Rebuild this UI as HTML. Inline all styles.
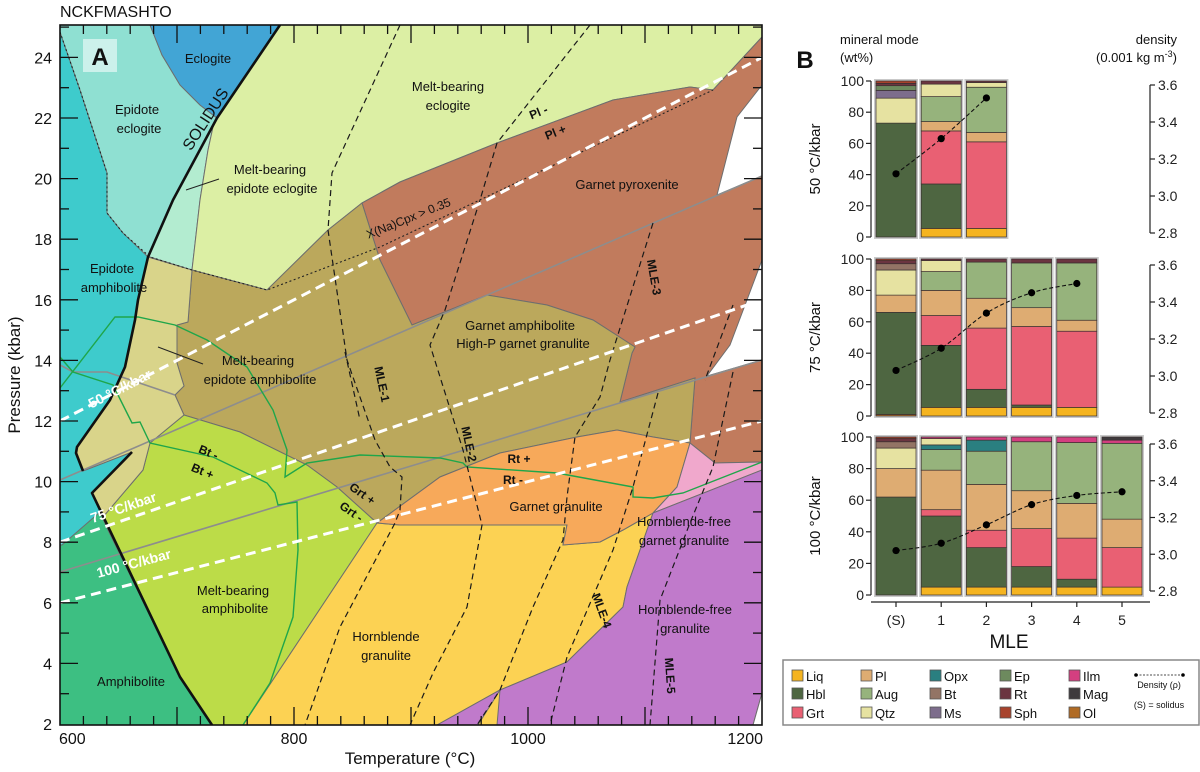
<!DOCTYPE html>
<html><head><meta charset="utf-8"><title>NCKFMASHTO phase diagram and mineral modes</title>
<style>
html,body{margin:0;padding:0;background:#fff;}
svg{display:block;font-family:"Liberation Sans",Arial,sans-serif;}
</style></head>
<body>
<svg id="fig" width="1200" height="772" viewBox="0 0 1200 772" xmlns="http://www.w3.org/2000/svg">
<g id="panelA"></g>
<g id="panelB"></g>
</svg>
<script>
// ---------- Panel B data ----------
const minerals = ["Liq","Ol","Hbl","Grt","Pl","Aug","Opx","Qtz","Ms","Bt","Ep","Ilm","Mag","Rt","Sph"];
const mineralColors = {Liq:"#f5b420",Pl:"#deac72",Opx:"#2a7f80",Ep:"#6d8a5e",Ilm:"#d43f80",Hbl:"#4e6641",Aug:"#96b37c",Bt:"#937465",Rt:"#6b3540",Mag:"#3e3a3d",Grt:"#e96073",Qtz:"#e6e2a1",Ms:"#7d6d8c",Sph:"#a8432c",Ol:"#b06b25"};
const categories = ["(S)","1","2","3","4","5"];
const gradients = ["50 °C/kbar","75 °C/kbar","100 °C/kbar"];
const modes50 = [
  {Hbl:73,Qtz:16,Ms:5,Ep:3,Sph:1.5,Rt:1.5},
  {Liq:5.5,Hbl:28.5,Grt:34,Pl:6,Aug:16,Qtz:8,Rt:2},
  {Liq:5.5,Grt:55.5,Pl:6,Aug:29,Qtz:3,Rt:1}
];
const modes75 = [
  {Ol:1,Hbl:65,Pl:11,Qtz:16,Bt:4,Rt:2,Sph:1},
  {Liq:5.5,Hbl:39.5,Grt:19,Pl:16,Aug:12,Qtz:7,Rt:1},
  {Liq:5.5,Hbl:11.5,Grt:39,Pl:19,Aug:23,Rt:2},
  {Liq:5.5,Hbl:1.5,Grt:50,Pl:12,Aug:28.5,Rt:2.5},
  {Liq:5.5,Grt:48.5,Pl:7,Aug:36.5,Rt:2.5}
];
const modes100 = [
  {Hbl:62,Pl:18,Qtz:13,Bt:4,Rt:2,Sph:1},
  {Liq:5,Hbl:45,Grt:4,Pl:25,Aug:13,Opx:3,Qtz:4,Ilm:1},
  {Liq:5,Hbl:25,Grt:11,Pl:29,Aug:21,Opx:7,Ilm:2},
  {Liq:5,Hbl:13,Grt:24,Pl:24,Aug:31,Ilm:3},
  {Liq:5,Hbl:5,Grt:26,Pl:22,Aug:38.5,Ilm:3.5},
  {Liq:5,Grt:25,Pl:18,Aug:48,Ilm:2,Mag:2}
];
const density50 = [3.12,3.31,3.53];
const density75 = [3.03,3.15,3.34,3.45,3.50];
const density100 = [3.02,3.06,3.16,3.27,3.32,3.34];
const modeTicks = [0,20,40,60,80,100];
const densityTicks = [2.8,3.0,3.2,3.4,3.6];
// ---------- Panel A data ----------
const tempTicks = [600,800,1000,1200];
const pressTicks = [2,4,6,8,10,12,14,16,18,20,22,24];
const geotherms = [50,75,100];

const NS="http://www.w3.org/2000/svg";
function el(tag,attrs,parent,text){const e=document.createElementNS(NS,tag);for(const k in attrs)e.setAttribute(k,attrs[k]);if(text!==undefined)e.textContent=text;parent.appendChild(e);return e;}
const A=document.getElementById('panelA');
const B=document.getElementById('panelB');

// axis functions panel A
function xT(T){return 60+(T-600)*1.17;}
function yP(P){return 724-(P-2)*30.3;}
const X0=60,X1=762,Y0=25,Y1=725;

// clip
const defs=el('defs',{},A);
const cp=el('clipPath',{id:'clipA'},defs);
el('rect',{x:X0,y:Y0,width:X1-X0,height:Y1-Y0},cp);
const G=el('g',{'clip-path':'url(#clipA)'},A);



// digitised field outlines (pixel trace of diagram)
const fields=[
 ["field-epidote-amphibolite","#3ecbcc","60,25 280,25 217,118 173,200 148,257 138,300 135,320 125,367 110,400 77,447 76,453 83,471 132,452 92,493 108,530 62,545 60,545"],
 ["field-epidote-eclogite","#8fe0d2","60,25 150,25 162,55 180,85 200,105 217,118 173,200 148,257 123,233 107,213 107,173 80,90 60,32"],
 ["field-melt-bearing-epidote-eclogite","#b3ecd0","217,118 213,127 208,150 200,200 192,270 150,257 148,257 173,200"],
 ["field-melt-bearing-eclogite","#dcefa4","275,25 762,25 762,37 713,90 690,87 613,100 497,143 400,182 362,203 328,230 267,290 192,270 200,200 208,150 213,127 217,118"],
 ["field-garnet-pyroxenite","#c17b5d","362,203 400,182 497,143 613,100 690,87 713,90 762,37 762,462 715,463 690,443 695,378 620,402 632,353 635,347 593,320 547,305 487,295 412,325 380,260"],
 ["field-garnet-amphibolite","#bba85c","177,325 188,322 192,270 267,290 328,230 362,203 380,260 412,325 487,295 547,305 593,320 635,347 632,353 620,402 695,378 690,443 653,437 617,430 577,437 500,453 440,477 377,523 337,487 307,465 240,432 184,415 175,395 184,386 177,363"],
 ["field-melt-bearing-amphibolite","#bcdc48","92,493 103,517 143,470 150,443 184,415 240,432 307,465 337,487 377,523 243,725 212,725 180,677"],
 ["field-melt-bearing-epidote-amphibolite","#d9d48a","148,257 192,270 188,322 177,325 177,363 184,386 175,395 184,415 150,443 143,470 103,517 92,493 132,452 83,471 76,453 77,447 110,400 125,367 135,320 138,300"],
 ["field-amphibolite","#3dbf82","60,545 62,545 100,512 108,530 180,677 212,725 60,725"],
 ["field-hornblende-granulite","#fcd253","377,523 400,525 567,525 563,545 600,542 623,530 653,513 627,587 623,607 567,662 500,690 437,725 243,725"],
 ["field-garnet-granulite","#f7a95a","377,523 440,477 500,453 577,437 617,430 653,437 690,443 677,487 653,513 623,530 600,542 563,545 567,525 400,525"],
 ["field-hornblende-free-garnet-granulite","#f0a8cc","690,443 715,463 762,462 762,470 653,513 677,487"],
 ["field-hornblende-free-granulite","#c07acb","437,725 500,690 567,662 623,607 627,587 653,513 762,470 762,693 753,725"],
 ["field-hornblende-granulite-strip","#fcd253","478,725 500,690 497,725"],
 ["field-eclogite","#42a5d5","150,25 280,25 217,118 200,105 180,85 162,55"],
 ["field-unstable-upper","#ffffff","762,85 737,117 717,195 762,176"],
 ["field-unstable-middle","#ffffff","762,260 730,345 707,376 762,360"],
 ["field-unstable-corner","#ffffff","753,725 762,693 762,725"]
];
fields.forEach(f=>{
  const p=el('polygon',{points:f[2],fill:f[1],stroke:'#6e6e6e','stroke-width':1},G);
  
  
});

// gray straight boundary lines
[["boundary-line-upper","60,480 762,176"],["boundary-line-lower","60,572 762,360"],["boundary-line-left","60,365 73,372 107,372 175,395"]].forEach(l=>{
  const p=el('polyline',{points:l[1],fill:'none',stroke:'#8d8d8d','stroke-width':1.6},G);
  
  
});
// dotted XNa boundary
const dot=el('polyline',{points:"60,32 80,90 107,173 107,213 123,233 150,257 192,270 267,290 380,247 713,90",fill:'none',stroke:'#222','stroke-width':1.1,'stroke-dasharray':'2,2.5'},G);


// green lines
[["bt-out-line","60,388 115,317 138,317 175,325 207,340 247,367 273,410 287,450 285,477 307,463 360,455 440,458 463,463 467,467 557,473 633,487 633,497 653,498 683,493 762,462"],
 ["grt-line","60,357 73,372 113,385 132,423 140,422 150,443 213,457 267,483 275,493 278,505 297,502 298,550 293,617 270,683 243,725"]].forEach(l=>{
  const p=el('polyline',{points:l[1],fill:'none',stroke:'#1fa64a','stroke-width':1.4},G);
  
  
});
// MLE dashed paths
[["mle-1-path","400,25 332,173 328,230 347,360 375,440 390,467 402,477 400,510 395,523 340,627 305,725"],
 ["mle-2-path","590,25 497,143 480,200 445,310 430,345 463,450 482,525 467,607 433,673 410,725"],
 ["mle-3-path","653,223 610,360 600,397 575,437 567,497 563,540 533,607 500,690 477,725"],
 ["mle-4-path","658,393 633,487 613,550 567,657 550,725"],
 ["mle-5-path","733,372 713,467 690,523 660,600 650,725"],
 ["dashed-extra","345,352 360,420"],
 ["dashed-extra-2","733,305 705,380"]].forEach(l=>{
  const p=el('polyline',{points:l[1],fill:'none',stroke:'#1a1a1a','stroke-width':1.2,'stroke-dasharray':'6,4'},G);
  
  
});
// solidus
[["solidus-upper","280,25 217,118 173,200 148,257 138,300 135,320 125,367 110,400 77,447 76,453 83,471"],["solidus-lower","132,452 92,493 180,677 212,725"]].forEach(l=>{
  const p=el('polyline',{points:l[1],fill:'none',stroke:'#111','stroke-width':2.6,'stroke-linejoin':'round'},G);
  
  
});
// geotherms from data: P = T / gradient
geotherms.forEach(g=>{
  const p=el('line',{x1:xT(600),y1:yP(600/g),x2:xT(1200),y2:yP(1200/g),stroke:'#fff','stroke-width':3,'stroke-dasharray':'10,6'},G);
  
  
});
// leader lines
el('line',{x1:186,y1:190,x2:219,y2:179,stroke:'#222','stroke-width':1},G);
el('line',{x1:158,y1:347,x2:203,y2:364,stroke:'#222','stroke-width':1},G);

// labels
function lbl(x,y,t,o){o=o||{};const a={x:x,y:y,'text-anchor':o.anchor||'middle','font-size':o.size||13,fill:o.fill||'#111'};if(o.bold)a['font-weight']='bold';if(o.rot!==undefined)a.transform=`rotate(${o.rot} ${x} ${y})`;const e=el('text',a,A,t);return e;}
el('rect',{x:83,y:39,width:34,height:33,fill:'rgba(255,255,255,0.55)'},A);
lbl(100,65,'A',{size:24,bold:true,name:'panel-a-label'});
lbl(208,63,'Eclogite',{});
lbl(137,114,'Epidote',{});lbl(139,133,'eclogite',{});
lbl(210,122,'SOLIDUS',{size:16,rot:-57,name:'solidus-label'});
lbl(270,174,'Melt-bearing',{});lbl(272,193,'epidote eclogite',{});
lbl(112,273,'Epidote',{});lbl(114,292,'amphibolite',{});
lbl(448,91,'Melt-bearing',{});lbl(448,110,'eclogite',{});
lbl(540,116,'Pl -',{bold:true,rot:-22,size:12});
lbl(557,136,'Pl +',{bold:true,rot:-22,size:12});
lbl(410,222,'X(Na)Cpx > 0.35',{rot:-22,size:12,name:'xna-label'});
lbl(627,189,'Garnet pyroxenite',{});
lbl(650,278,'MLE-3',{bold:true,size:12,rot:80,name:'mle-3-label'});
lbl(520,330,'Garnet amphibolite',{});lbl(523,348,'High-P garnet granulite',{});
lbl(258,365,'Melt-bearing',{});lbl(260,384,'epidote amphibolite',{});
lbl(122,393,'50 °C/kbar',{bold:true,fill:'#fff',size:14,rot:-27,name:'geotherm-50-label'});
lbl(378,385,'MLE-1',{bold:true,size:12,rot:78,name:'mle-1-label'});
lbl(465,445,'MLE-2',{bold:true,size:12,rot:78,name:'mle-2-label'});
lbl(207,456,'Bt -',{bold:true,size:12,rot:22});
lbl(201,475,'Bt +',{bold:true,size:12,rot:22});
lbl(519,463,'Rt +',{bold:true,size:12});
lbl(513,484,'Rt -',{bold:true,size:12});
lbl(556,511,'Garnet granulite',{});
lbl(360,497,'Grt +',{bold:true,size:12,rot:35});
lbl(349,515,'Grt -',{bold:true,size:12,rot:35});
lbl(125,512,'75 °C/kbar',{bold:true,fill:'#fff',size:14,rot:-19,name:'geotherm-75-label'});
lbl(684,526,'Hornblende-free',{});lbl(684,545,'garnet granulite',{});
lbl(135,568,'100 °C/kbar',{bold:true,fill:'#fff',size:14,rot:-15,name:'geotherm-100-label'});
lbl(233,595,'Melt-bearing',{});lbl(235,613,'amphibolite',{});
lbl(598,612,'MLE-4',{bold:true,size:12,rot:70,name:'mle-4-label'});
lbl(386,641,'Hornblende',{});lbl(386,660,'granulite',{});
lbl(685,614,'Hornblende-free',{});lbl(685,633,'granulite',{});
lbl(666,676,'MLE-5',{bold:true,size:12,rot:86,name:'mle-5-label'});
lbl(131,686,'Amphibolite',{});

// frame and ticks
const fr=el('rect',{x:X0,y:Y0,width:X1-X0,height:Y1-Y0,fill:'none',stroke:'#111','stroke-width':1.6},A);


for(let T=620;T<1200;T+=20){
  const L=(T%100===0)?18:9;
  el('line',{x1:xT(T),y1:Y1,x2:xT(T),y2:Y1-L,stroke:'#111','stroke-width':1.3},A);
  el('line',{x1:xT(T),y1:Y0,x2:xT(T),y2:Y0+L,stroke:'#111','stroke-width':1.3},A);
}
for(let P=3;P<=25;P++){
  const L=(P%2===0)?18:9;
  el('line',{x1:X0,y1:yP(P),x2:X0+L,y2:yP(P),stroke:'#111','stroke-width':1.3},A);
  el('line',{x1:X1,y1:yP(P),x2:X1-L,y2:yP(P),stroke:'#111','stroke-width':1.3},A);
}
tempTicks.forEach((T,i)=>{
  const anc=i===0?'start':(i===tempTicks.length-1?'end':'middle');
  const x=i===0?xT(T)-1:(i===tempTicks.length-1?xT(T)+1:xT(T));
  const e=el('text',{x:x,y:744,'text-anchor':anc,'font-size':16,fill:'#111'},A,String(T));
  
  
});
pressTicks.forEach(P=>{
  const e=el('text',{x:52,y:yP(P)+6,'text-anchor':'end','font-size':16,fill:'#111'},A,String(P));
  
  
});
lbl(410,764,'Temperature (°C)',{size:17,name:'x-axis-title'});
lbl(20,375,'Pressure (kbar)',{size:17,rot:-90,name:'y-axis-title'});
lbl(60,17,'NCKFMASHTO',{size:16,anchor:'start',name:'system-title'});

// ---------- Panel B ----------
const subplots=[
 {modes:modes50,dens:density50,y100:81,y0:237,r36:85,r28:233},
 {modes:modes75,dens:density75,y100:259,y0:416,r36:265,r28:413},
 {modes:modes100,dens:density100,y100:437,y0:595,r36:444,r28:591}
];
function barX(i){return 876+i*45.2;}
const BW=40;
function tB(x,y,t,o){o=o||{};const a={x:x,y:y,'text-anchor':o.anchor||'middle','font-size':o.size||14,fill:'#111'};if(o.bold)a['font-weight']='bold';if(o.rot!==undefined)a.transform=`rotate(${o.rot} ${x} ${y})`;const e=el('text',a,B,t);return e;}
tB(805,68,'B',{size:24,bold:true,name:'panel-b-label'});
tB(840,44,'mineral mode',{size:13,anchor:'start',name:'left-axis-title'});
tB(840,62,'(wt%)',{size:13,anchor:'start',name:'left-axis-unit'});
tB(1177,44,'density',{size:13,anchor:'end',name:'right-axis-title'});
const du=tB(1177,62,'(0.001 kg m',{size:13,anchor:'end',name:'right-axis-unit'});
du.textContent='';
const t1=el('tspan',{},du,'(0.001 kg m');
const t2=el('tspan',{dy:-5,'font-size':9},du,'-3');
const t3=el('tspan',{dy:5},du,')');

subplots.forEach((sp,k)=>{
  const yM=v=>sp.y0-(v/100)*(sp.y0-sp.y100);
  const yD=d=>sp.r28-(d-2.8)/0.8*(sp.r28-sp.r36);
  const g=el('g',{},B);
  
  
  // left axis
  el('line',{x1:871,y1:sp.y100,x2:871,y2:sp.y0,stroke:'#222','stroke-width':1.2},g);
  modeTicks.forEach(v=>{
    el('line',{x1:866,y1:yM(v),x2:871,y2:yM(v),stroke:'#222','stroke-width':1.2},g);
    const e=el('text',{x:864,y:yM(v)+5,'text-anchor':'end','font-size':14,fill:'#222'},g,String(v));
    
    
  });
  // right axis
  el('line',{x1:1150,y1:yD(3.6),x2:1150,y2:yD(2.8),stroke:'#222','stroke-width':1.2},g);
  densityTicks.forEach(d=>{
    el('line',{x1:1150,y1:yD(d),x2:1155,y2:yD(d),stroke:'#222','stroke-width':1.2},g);
    const e=el('text',{x:1158,y:yD(d)+5,'text-anchor':'start','font-size':14,fill:'#222'},g,d.toFixed(1));
    
    
  });
  const lab=el('text',{x:820,y:(sp.y100+sp.y0)/2,'text-anchor':'middle','font-size':15,fill:'#111',transform:`rotate(-90 820 ${(sp.y100+sp.y0)/2})`},g,gradients[k]);
  
  
  // bars
  sp.modes.forEach((m,i)=>{
    const bx=barX(i);
    const outline=el('rect',{x:bx-1,y:sp.y100-1,width:BW+2,height:sp.y0-sp.y100+2,fill:'none',stroke:'#c9c9c9','stroke-width':2},g);
    
    
    let cum=0;
    minerals.forEach(mn=>{
      const v=m[mn]||0; if(v<=0)return;
      const r=el('rect',{x:bx,y:yM(cum+v),width:BW,height:yM(cum)-yM(cum+v),fill:mineralColors[mn],stroke:'#3a3030','stroke-width':0.7},g);
      
      
      cum+=v;
    });
  });
  // density line
  const pts=sp.dens.map((d,i)=>[barX(i)+BW/2,yD(d)]);
  let dstr='M'+pts[0][0]+','+pts[0][1];
  for(let i=0;i<pts.length-1;i++){
    const p0=pts[Math.max(0,i-1)],p1=pts[i],p2=pts[i+1],p3=pts[Math.min(pts.length-1,i+2)];
    const c1=[p1[0]+(p2[0]-p0[0])/6,p1[1]+(p2[1]-p0[1])/6];
    const c2=[p2[0]-(p3[0]-p1[0])/6,p2[1]-(p3[1]-p1[1])/6];
    dstr+=` C${c1[0]},${c1[1]} ${c2[0]},${c2[1]} ${p2[0]},${p2[1]}`;
  }
  const dl=el('path',{d:dstr,fill:'none',stroke:'#111','stroke-width':1.1,'stroke-dasharray':'4,2.5'},g);
  
  
  pts.forEach(p=>{
    const c=el('circle',{cx:p[0],cy:p[1],r:3.6,fill:'#000'},g);
    
    
  });
});
// x axis panel B
const xa=el('line',{x1:871,y1:602,x2:1150,y2:602,stroke:'#222','stroke-width':1.2},B);


categories.forEach((c,i)=>{
  const cx=barX(i)+BW/2;
  el('line',{x1:cx,y1:602,x2:cx,y2:607,stroke:'#222','stroke-width':1.2},B);
  const e=el('text',{x:cx,y:625,'text-anchor':'middle','font-size':14,fill:'#222'},B,c);
  
  
});
tB(1009,648,'MLE',{size:19,name:'mle-axis-title'});

// legend
const lg=el('g',{},B);


el('rect',{x:783,y:660,width:416,height:65,fill:'#fff',stroke:'#888','stroke-width':1.5},lg);
const legendCols=[["Liq","Hbl","Grt"],["Pl","Aug","Qtz"],["Opx","Bt","Ms"],["Ep","Rt","Sph"],["Ilm","Mag","Ol"]];
const colX=[792,861,930,1000,1069],rowY=[676,694,713];
legendCols.forEach((col,ci)=>col.forEach((mn,ri)=>{
  const it=el('g',{},lg);
  
  
  el('rect',{x:colX[ci],y:rowY[ri]-6,width:11,height:11,fill:mineralColors[mn],stroke:'#555','stroke-width':0.8},it);
  el('text',{x:colX[ci]+14,y:rowY[ri]+5,'font-size':13,fill:'#111'},it,mn);
}));
const ds=el('g',{},lg);


el('line',{x1:1136,y1:675,x2:1183,y2:675,stroke:'#111','stroke-width':0.8,'stroke-dasharray':'2,1.5'},ds);
el('circle',{cx:1136,cy:675,r:1.8,fill:'#000'},ds);
el('circle',{cx:1183,cy:675,r:1.8,fill:'#000'},ds);
el('text',{x:1159,y:688,'text-anchor':'middle','font-size':9,fill:'#111'},ds,'Density (ρ)');
el('text',{x:1159,y:708,'text-anchor':'middle','font-size':9,fill:'#111'},ds,'(S) = solidus');
</script>
</body></html>
